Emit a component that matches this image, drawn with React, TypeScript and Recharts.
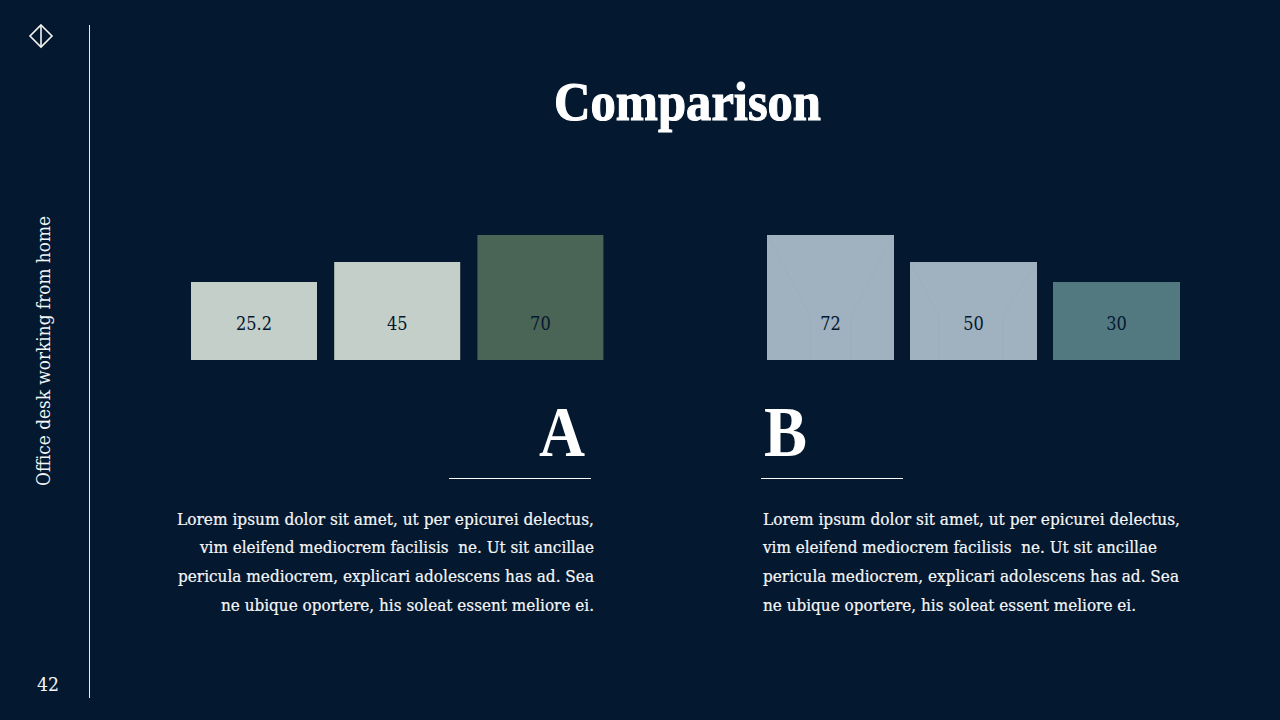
import React from "react";
import { BarChart, Bar, XAxis, YAxis, Cell, LabelList } from "recharts";

// Printed labels
const labelsA = ["25.2", "45", "70"];
const labelsB = ["72", "50", "30"];
// Bar levels as drawn, in percent of the tallest bar (they do not follow the printed labels)
const levelsA = [62.4, 78.4, 100];
const levelsB = [100, 78.4, 62.4];
const colorsA = ["#C4CFC9", "#C4CFC9", "#4A6455"];
const colorsB = ["#A0B1BF", "#A0B1BF", "#527880"];

const loremLines = [
  "Lorem ipsum dolor sit amet, ut per epicurei delectus,",
  "vim eleifend mediocrem facilisis  ne. Ut sit ancillae",
  "pericula mediocrem, explicari adolescens has ad. Sea",
  "ne ubique oportere, his soleat essent meliore ei.",
];
const lineWidthsA = [417, 394, 416, 373];
const lineWidthsB = [417, 394, 416, 373];
const lineBaselines = [525, 553, 582, 611];

const BG = "#04182F";
const BODY = "'DejaVu Serif Condensed', 'DejaVu Serif', serif";
const DISPLAY = "'Liberation Serif', serif";

const toRows = (labels: string[], levels: number[]) =>
  labels.map((label, i) => ({ name: label, level: levels[i], label }));

function Panel({ labels, levels, colors, left, width, barSize }: { labels: string[]; levels: number[]; colors: string[]; left: number; width: number; barSize: number }) {
  return (
    <div style={{ position: "absolute", left, top: 235 }}>
      <BarChart width={width} height={125} data={toRows(labels, levels)} margin={{ top: 0, right: 0, bottom: 0, left: 0 }} barSize={barSize}>
        <XAxis dataKey="name" hide />
        <YAxis hide domain={[0, 100]} />
        <Bar dataKey="level" isAnimationActive={false}>
          {colors.map((c, i) => (
            <Cell key={i} fill={c} />
          ))}
          <LabelList dataKey="label" position="insideBottom" offset={30} fill={BG} fontSize={18} fontFamily={BODY} />
        </Bar>
      </BarChart>
    </div>
  );
}

export default function App() {
  return (
    <div style={{ position: "fixed", left: 0, top: 0, width: 1280, height: 720, background: BG, overflow: "hidden" }}>
      <Panel labels={labelsA} levels={levelsA} colors={colorsA} left={182.4} width={429.6} barSize={126} />
      <Panel labels={labelsB} levels={levelsB} colors={colorsB} left={759} width={429} barSize={127} />
      <svg width={1280} height={720} style={{ position: "absolute", left: 0, top: 0, pointerEvents: "none" }}>
        <g fill="none" stroke="#9DAEBC" strokeWidth={1}>
          <path d="M768 236 L810 316 V360 M893 236 L851 316 V360" />
          <path d="M911 263 L939 316 V360 M1036 263 L1003 316 V360" />
        </g>
        <line x1={89.5} y1={25} x2={89.5} y2={698} stroke="#E8ECEF" strokeWidth={1} />
        <g fill="none" stroke="#F4F4F0" strokeWidth={1.6}>
          <path d="M41 25 L52 36 L41 47 L30 36 Z" />
          <line x1={41} y1={25} x2={41} y2={47} />
        </g>
        <text
          transform="translate(50,486) rotate(-90)"
          fill="#F2F4F5"
          fontFamily={BODY}
          fontSize={18}
          textLength={270}
          lengthAdjust="spacingAndGlyphs"
        >
          Office desk working from home
        </text>
        <text x={37} y={691} fill="#F2F4F5" fontFamily={BODY} fontSize={18} textLength={22} lengthAdjust="spacingAndGlyphs">
          42
        </text>
        <text
          x={554}
          y={120}
          fill="#FFFFFF"
          stroke="#FFFFFF"
          strokeWidth={1.1}
          fontFamily={DISPLAY}
          fontWeight={700}
          fontSize={54}
          textLength={267}
          lengthAdjust="spacingAndGlyphs"
        >
          Comparison
        </text>
        <text x={539} y={456} fill="#FFFFFF" fontFamily={DISPLAY} fontWeight={700} fontSize={72} textLength={46} lengthAdjust="spacingAndGlyphs">
          A
        </text>
        <text x={764} y={456} fill="#FFFFFF" fontFamily={DISPLAY} fontWeight={700} fontSize={72} textLength={43} lengthAdjust="spacingAndGlyphs">
          B
        </text>
        <line x1={449} y1={478.5} x2={591} y2={478.5} stroke="#FFFFFF" strokeWidth={1} />
        <line x1={761} y1={478.5} x2={903} y2={478.5} stroke="#FFFFFF" strokeWidth={1} />
        {loremLines.map((t, i) => (
          <text
            key={"a" + i}
            x={594 - lineWidthsA[i]}
            y={lineBaselines[i]}
            fill="#F5F6F7"
            stroke="#F5F6F7"
            strokeWidth={0.2}
            fontFamily={BODY}
            fontSize={16.5}
            textLength={lineWidthsA[i]}
            lengthAdjust="spacingAndGlyphs"
            style={{ whiteSpace: "pre" }}
          >
            {t}
          </text>
        ))}
        {loremLines.map((t, i) => (
          <text
            key={"b" + i}
            x={763}
            y={lineBaselines[i]}
            fill="#F5F6F7"
            stroke="#F5F6F7"
            strokeWidth={0.2}
            fontFamily={BODY}
            fontSize={16.5}
            textLength={lineWidthsB[i]}
            lengthAdjust="spacingAndGlyphs"
            style={{ whiteSpace: "pre" }}
          >
            {t}
          </text>
        ))}
      </svg>
    </div>
  );
}
